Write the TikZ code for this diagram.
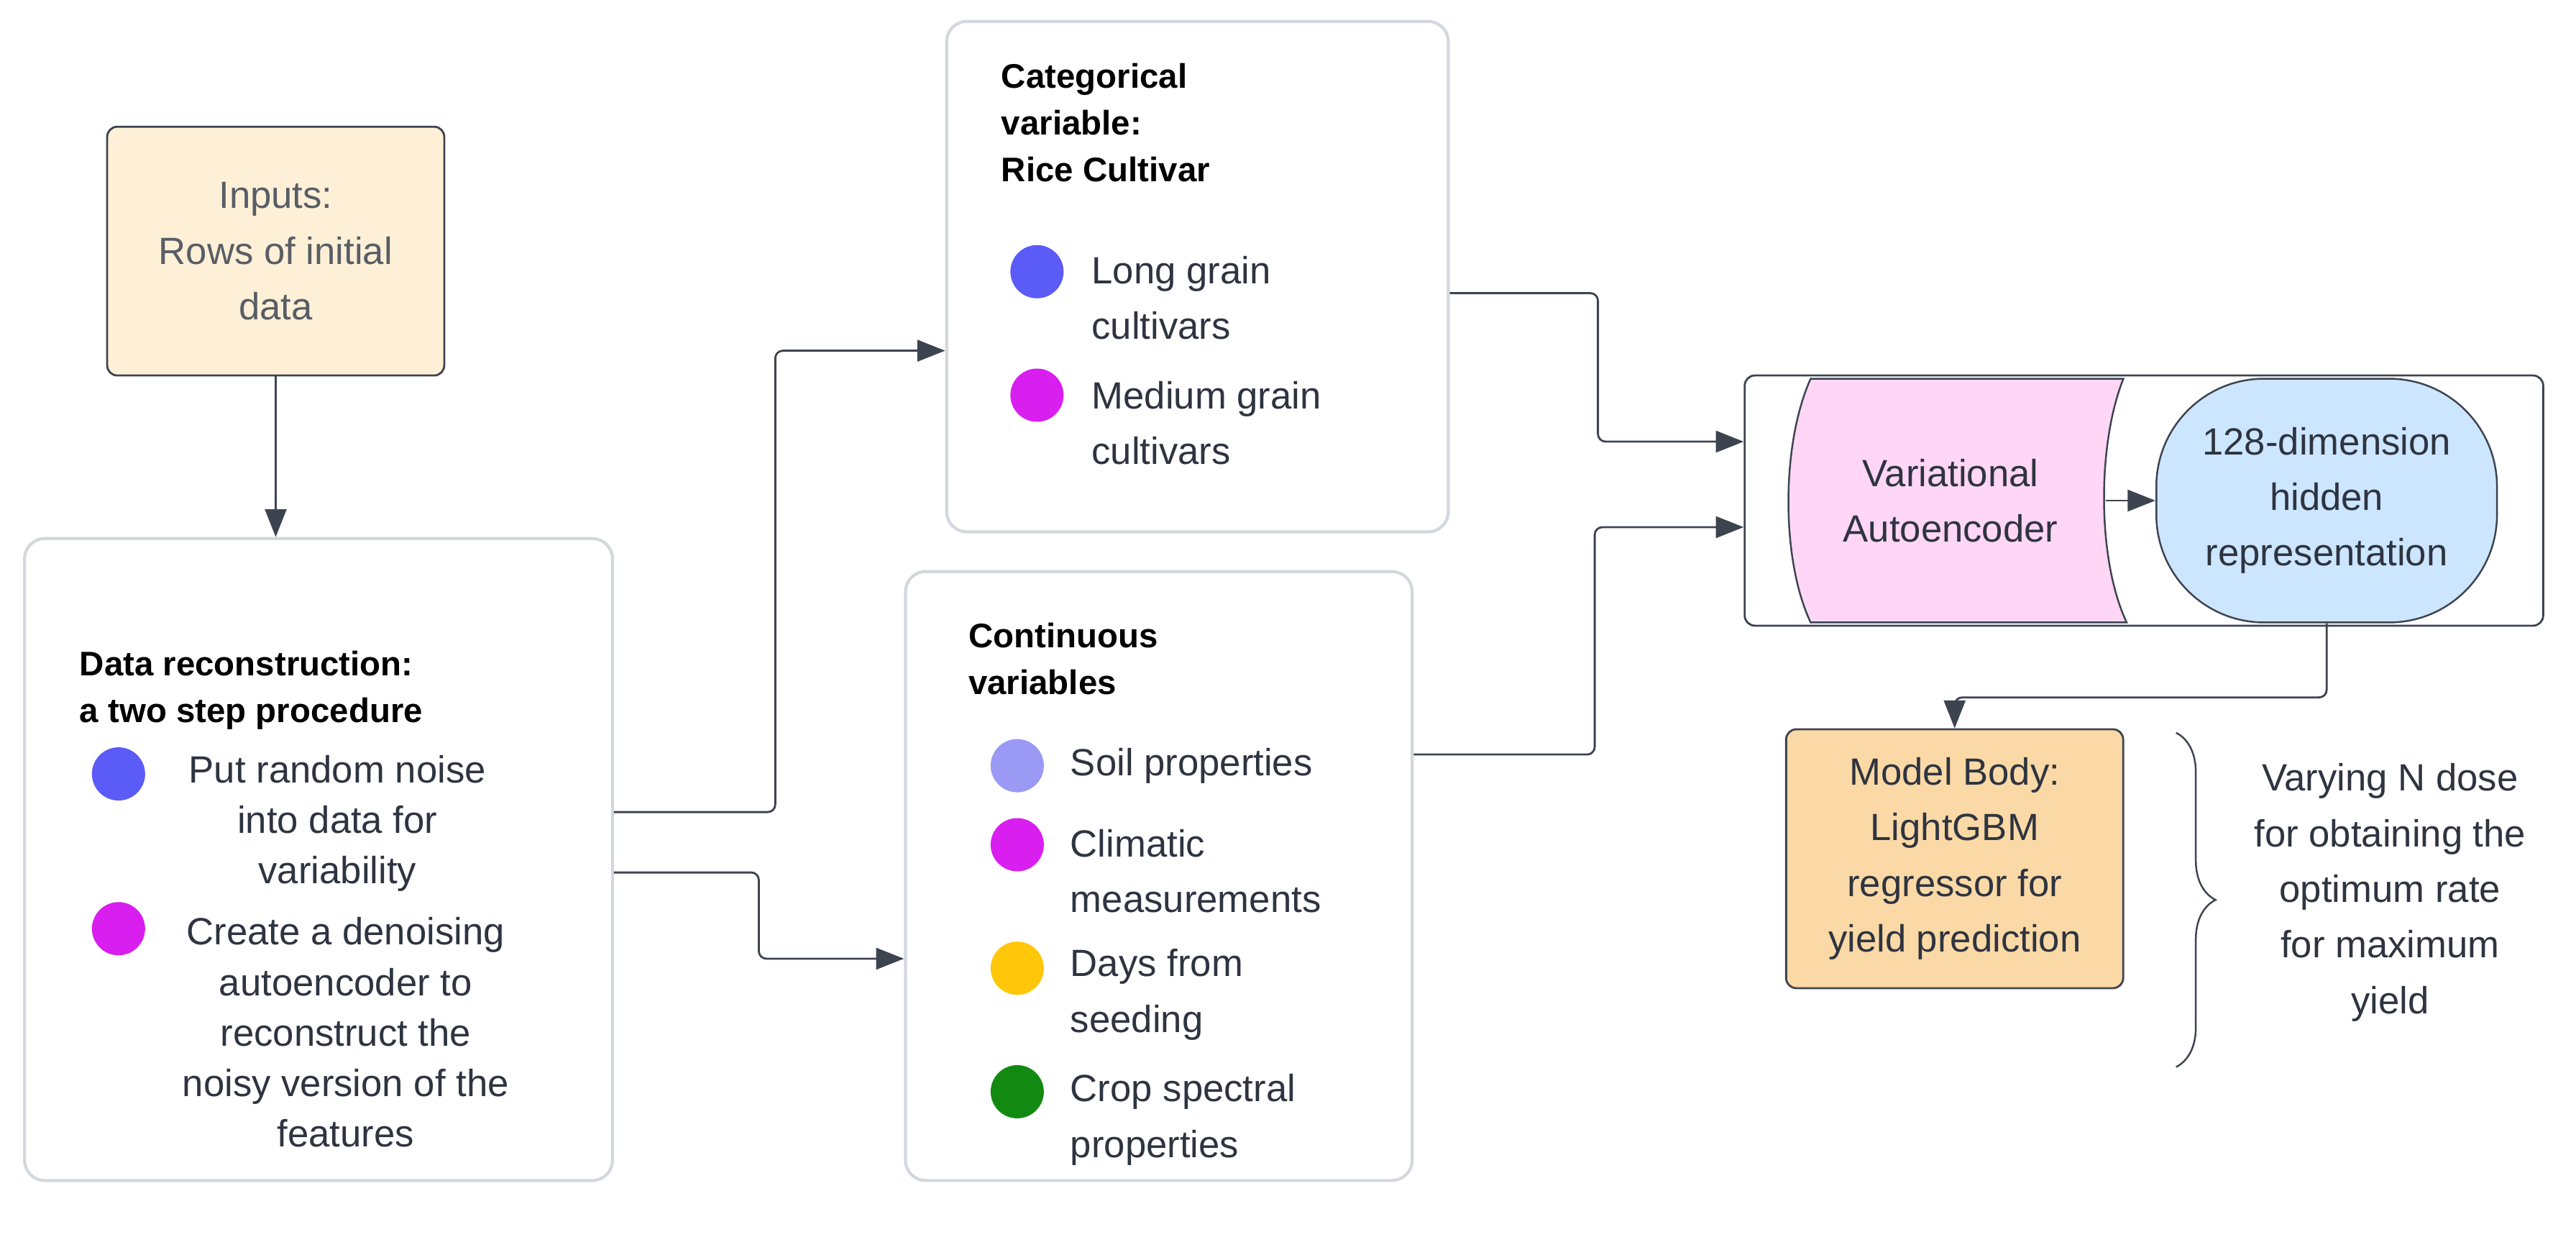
\documentclass[tikz,border=0pt]{standalone}
\usepackage{fontspec}
\setmainfont{Liberation Sans}
\usetikzlibrary{arrows.meta,decorations.pathreplacing}
\definecolor{lineg}{HTML}{3D4450}
\definecolor{boxg}{HTML}{D3D8DF}
\definecolor{txtg}{HTML}{2E3440}
\definecolor{inpfill}{HTML}{FDF0D6}
\definecolor{modfill}{HTML}{FBD9A6}
\definecolor{pinkf}{HTML}{FFD6F5}
\definecolor{bluef}{HTML}{CCE6FF}
\definecolor{cblue}{HTML}{5B5BF7}
\definecolor{cmag}{HTML}{D91EF0}
\definecolor{clav}{HTML}{9A9AF5}
\definecolor{cyel}{HTML}{FFC60A}
\definecolor{cgrn}{HTML}{128A12}

\begin{document}
\begin{tikzpicture}[x=0.0229cm,y=-0.0229cm,
    font=\fontsize{15}{22}\selectfont, text=txtg,
    panel/.style={draw=boxg, line width=1.2pt, rounded corners=8pt, fill=white},
    tbox/.style={draw=lineg, line width=0.8pt, rounded corners=4pt, align=center},
    title/.style={font=\fontsize{13.5}{18.5}\selectfont\bfseries, align=left, anchor=north west, text=black},
    dot/.style={circle, minimum size=0.74cm, inner sep=0pt, fill=#1},
    item/.style={align=left, anchor=west, inner sep=0pt},
    arr/.style={-{Triangle[length=11pt,width=8.5pt]}, draw=lineg, line width=0.8pt, rounded corners=3pt}]
    \useasboundingbox (0,0) rectangle (1565,759);

    % Inputs
    \node[tbox, fill=inpfill, minimum width=4.69cm, minimum height=3.46cm, text=txtg!80] (inputs) at (167.5,152.5)
        {Inputs:\\Rows of initial\\data};

    % Data reconstruction
    \node[panel, minimum width=8.18cm, minimum height=8.93cm] (recon) at (193.5,522) {};
    \node[title] (recontitle) at (43,390) {Data reconstruction:\\a two step procedure};
    \node[dot=cblue] (rdot1) at (72,470) {};
    \node[align=center, inner sep=0pt, font=\fontsize{15}{20}\selectfont] (ritem1) at (205,500) {Put random noise\\into data for\\variability};
    \node[dot=cmag] (rdot2) at (72,564) {};
    \node[align=center, inner sep=0pt, font=\fontsize{15}{20}\selectfont] (ritem2) at (210,627) {Create a denoising\\autoencoder to\\reconstruct the\\noisy version of the\\features};

    % Categorical variable
    \node[panel, minimum width=6.98cm, minimum height=7.10cm] (categ) at (727.5,168) {};
    \node[title] (categtitle) at (603,33) {Categorical\\variable:\\Rice Cultivar};
    \node[dot=cblue] (cdot1) at (630,165) {};
    \node[item] (citem1) at (663,181) {Long grain\\cultivars};
    \node[dot=cmag] (cdot2) at (630,240) {};
    \node[item] (citem2) at (663,257) {Medium grain\\cultivars};

    % Continuous variables
    \node[panel, minimum width=7.05cm, minimum height=8.47cm] (contin) at (704,532) {};
    \node[title] (contintitle) at (583,373) {Continuous\\variables};
    \node[dot=clav] (ndot1) at (618,465) {};
    \node[item] (nitem1) at (650,465) {Soil properties};
    \node[dot=cmag] (ndot2) at (618,513) {};
    \node[item] (nitem2) at (650,529) {Climatic\\measurements};
    \node[dot=cyel] (ndot3) at (618,588) {};
    \node[item] (nitem3) at (650,604) {Days from\\seeding};
    \node[dot=cgrn] (ndot4) at (618,663) {};
    \node[item] (nitem4) at (650,680) {Crop spectral\\properties};

    % Autoencoder block
    \node[draw=lineg, line width=0.8pt, rounded corners=4pt, minimum width=11.11cm, minimum height=3.48cm] (vae) at (1302.5,304) {};
    \draw[draw=lineg, line width=0.7pt, fill=pinkf] (1100,230) .. controls (1082,270) and (1082,340) .. (1100,378)
        -- (1292,378) .. controls (1274,340) and (1274,270) .. (1290,230) -- cycle;
    \node[align=center, minimum width=4.3cm] (vaeenc) at (1185,304) {Variational\\Autoencoder};
    \node[draw=lineg, line width=0.7pt, fill=bluef, rounded corners=1.5cm, minimum width=4.74cm, minimum height=3.39cm, align=center, inner sep=0pt] (hidden) at (1413.5,304)
        {128-dimension\\hidden\\representation};

    % Model body and note
    \node[tbox, fill=modfill, minimum width=4.69cm, minimum height=3.60cm] (model) at (1187.5,521.5)
        {Model Body:\\LightGBM\\regressor for\\yield prediction};
    \coordinate (bracetop) at (1322,445);
    \coordinate (bracebot) at (1322,648);
    \draw[draw=lineg, line width=0.7pt, decorate, decoration={brace, amplitude=0.55cm}] (bracetop) -- (bracebot);
    \node[align=center] (note) at (1452,542) {Varying N dose\\for obtaining the\\optimum rate\\for maximum\\yield};

    % Connectors
    \draw[arr] (inputs.south) -- (recon.north -| inputs.south);
    \draw[arr] ([yshift=0.66cm]recon.east) -- ++(98,0) |- ([yshift=-1.03cm]categ.west);
    \draw[arr] ([yshift=-0.18cm]recon.east) -- ++(88,0) |- ([yshift=-1.15cm]contin.west);
    \draw[arr] ([yshift=-0.23cm]categ.east) -- ++(90,0) |- ([yshift=0.82cm]vae.west);
    \draw[arr] ([yshift=1.69cm]contin.east) -- ++(110,0) |- ([yshift=-0.37cm]vae.west);
    \draw[arr] (vaeenc.east) -- (hidden.west);
    \draw[arr] (hidden.south) -- ++(0,45) -| (model.north);
\end{tikzpicture}
\end{document}
